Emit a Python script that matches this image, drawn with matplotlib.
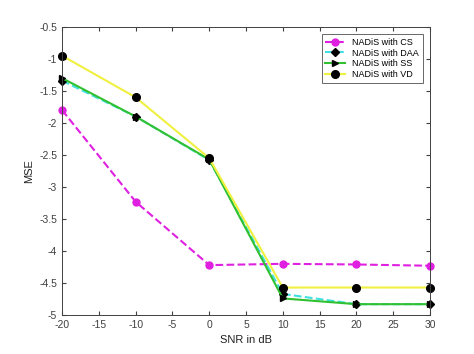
import matplotlib
matplotlib.use('Agg')
import matplotlib.pyplot as plt

plt.rcParams['font.family'] = ['Liberation Sans', 'DejaVu Sans']
plt.rcParams['axes.unicode_minus'] = False

snr = [-20, -10, 0, 10, 20, 30]
mse_cs = [-1.8, -3.23, -4.22, -4.2, -4.21, -4.23]
mse_daa = [-1.34, -1.9, -2.58, -4.67, -4.83, -4.83]
mse_ss = [-1.3, -1.9, -2.57, -4.74, -4.83, -4.83]
mse_vd = [-0.95, -1.6, -2.55, -4.57, -4.57, -4.57]

fig = plt.figure(figsize=(4.74, 3.54), dpi=100)
ax = fig.add_axes([0.131, 0.110, 0.776, 0.814])

ax.plot(snr, mse_cs, '--', color='#e020e0', lw=1.5, marker='o', ms=5,
        mfc='#e020e0', mec='#e020e0', label='NADiS with CS', clip_on=False)
ax.plot(snr, mse_daa, '--', color='#40e0e0', lw=1.5, marker='D', ms=4,
        mfc='black', mec='black', label='NADiS with DAA', clip_on=False)
ax.plot(snr, mse_ss, '-', color='#30c030', lw=1.5, marker='>', ms=5,
        mfc='black', mec='black', label='NADiS with SS', clip_on=False)
ax.plot(snr, mse_vd, '-', color='#f0f040', lw=1.5, marker='o', ms=5.5,
        mfc='black', mec='black', label='NADiS with VD', clip_on=False)

ax.set_xlim(-20, 30)
ax.set_ylim(-5, -0.5)
ax.set_xticks(range(-20, 31, 5))
ax.set_yticks([-5, -4.5, -4, -3.5, -3, -2.5, -2, -1.5, -1, -0.5])
ax.set_yticklabels(['-5', '-4.5', '-4', '-3.5', '-3', '-2.5', '-2', '-1.5', '-1', '-0.5'])
ax.tick_params(direction='in', top=True, right=True, labelsize=7.5, colors='#404040', length=3)
for s in ax.spines.values():
    s.set_color('#404040')
    s.set_linewidth(0.7)

ax.set_xlabel('SNR in dB', fontsize=8, color='#202020')
ax.set_ylabel('MSE', fontsize=8, color='#202020')

leg = ax.legend(loc='upper right', fontsize=6.5, frameon=True, fancybox=False,
                edgecolor='#404040', handlelength=2.2, borderpad=0.4,
                labelspacing=0.2, borderaxespad=0.8)
leg.get_frame().set_linewidth(0.7)

fig.savefig('out.png', dpi=100)
